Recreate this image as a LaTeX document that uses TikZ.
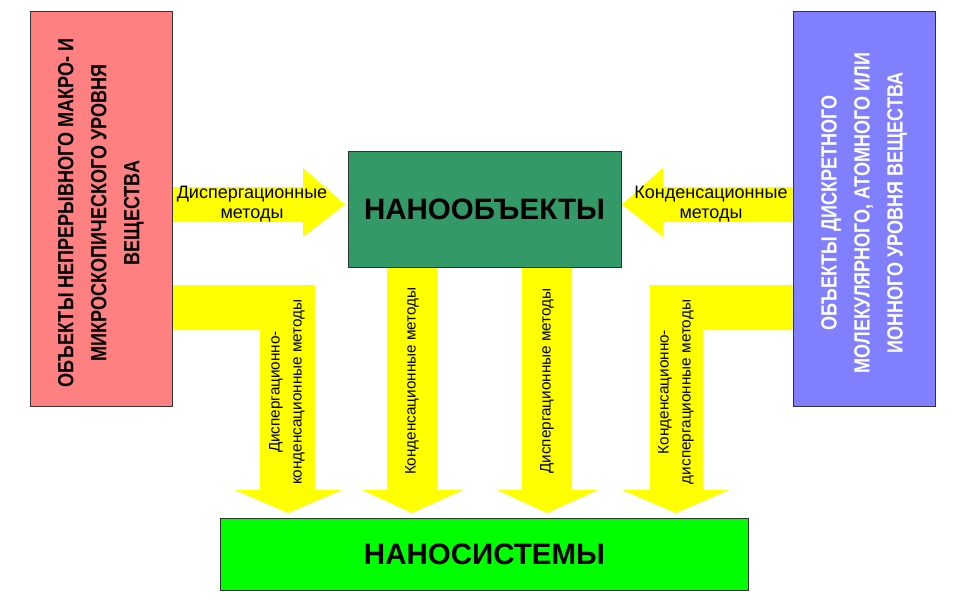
\documentclass[tikz,border=0pt]{standalone}
\usepackage{fontspec}
\setmainfont{Liberation Sans}
\newfontfamily\narrowfont[FakeStretch=0.82]{Liberation Sans}
\usetikzlibrary{
  positioning,
  backgrounds
}
\definecolor{boxred}{RGB}{255,128,128}
\definecolor{boxblue}{RGB}{128,128,255}
\definecolor{boxsea}{RGB}{51,153,102}
\definecolor{boxlime}{RGB}{0,255,0}
\definecolor{flow}{RGB}{255,255,0}
\tikzset{
  box/.style={draw=black!80, line width=1pt, inner sep=0pt, align=center},
  sidebox/.style={box, minimum width=142pt, minimum height=395pt},
  sidetext/.style={rotate=90, align=center, inner sep=0pt,
    font=\narrowfont\bfseries\fontsize{22}{33}\selectfont},
  bigtext/.style={font=\bfseries\fontsize{29.5}{34}\selectfont},
  fat/.style={fill=flow, draw=none},
  flowlabel/.style={align=center, inner sep=0pt, font=\fontsize{18}{19.5}\selectfont},
  vertlabel/.style={flowlabel, rotate=90, font=\fontsize{15.3}{22}\selectfont}
}

\begin{document}
\begin{tikzpicture}[x=1pt, y=-1pt]
    \useasboundingbox (0,0) rectangle (960,606);
    \node[box, bigtext, fill=boxsea, minimum width=273pt, minimum height=116pt] (nanoobj) at (484.5,209) {НАНООБЪЕКТЫ};
    \node[sidebox, fill=boxred, left=175pt of nanoobj] (macro) {};
    \node[sidebox, fill=boxblue, right=171pt of nanoobj] (discrete) {};
    \node[box, bigtext, fill=boxlime, minimum width=528pt, minimum height=72pt, below=250pt of nanoobj] (nanosys) {НАНОСИСТЕМЫ};
    \node[sidetext, xshift=-4pt] (macrotxt) at (macro) {ОБЪЕКТЫ НЕПРЕРЫВНОГО МАКРО- И\\МИКРОСКОПИЧЕСКОГО УРОВНЯ\\ВЕЩЕСТВА};
    \node[sidetext, text=white, xshift=-4pt] (discretetxt) at (discrete) {ОБЪЕКТЫ ДИСКРЕТНОГО\\МОЛЕКУЛЯРНОГО, АТОМНОГО ИЛИ\\ИОННОГО УРОВНЯ ВЕЩЕСТВА};
    \begin{scope}[on background layer]
    % horizontal arrows into the nanoobjects box
    \fill[fat] (macro.east |- 0,187) -- (303,187) -- (303,168) -- (345,204.5) -- (303,237) -- (303,222) -- (macro.east |- 0,222) -- cycle;
    \fill[fat] (discrete.west |- 0,187) -- (663,187) -- (663,168) -- (622,204.5) -- (663,237) -- (663,222) -- (discrete.west |- 0,222) -- cycle;
    % bent arrows from the side boxes
    \fill[fat] (macro.east |- 0,285) -- (315,285) -- (315,490) -- (342,490) -- (288,513) -- (235,490) -- (260,490) -- (260,330) -- (macro.east |- 0,330) -- cycle;
    \fill[fat] (discrete.west |- 0,285) -- (650,285) -- (650,490) -- (622,490) -- (676,513) -- (729,490) -- (703,490) -- (703,330) -- (discrete.west |- 0,330) -- cycle;
    % straight arrows down from the nanoobjects box
    \fill[fat] (387,0 |- nanoobj.south) -- (387,490) -- (362,490) -- (412,513) -- (463,490) -- (437,490) -- (437,0 |- nanoobj.south) -- cycle;
    \fill[fat] (522,0 |- nanoobj.south) -- (522,490) -- (497,490) -- (547,513) -- (598,490) -- (572,490) -- (572,0 |- nanoobj.south) -- cycle;
    \end{scope}
    \node[flowlabel] (displbl) at (252,204) {Диспергационные\\методы};
    \node[flowlabel] (condlbl) at (711,204) {Конденсационные\\методы};
    \node[vertlabel] (dclbl) at (287,392) {Диспергационно-\\конденсационные методы};
    \node[vertlabel] (condvlbl) at (412,381) {Конденсационные методы};
    \node[vertlabel] (dispvlbl) at (547,381) {Диспергационные методы};
    \node[vertlabel] (cdlbl) at (676,392) {Конденсационно-\\диспергационные методы};
\end{tikzpicture}
\end{document}
